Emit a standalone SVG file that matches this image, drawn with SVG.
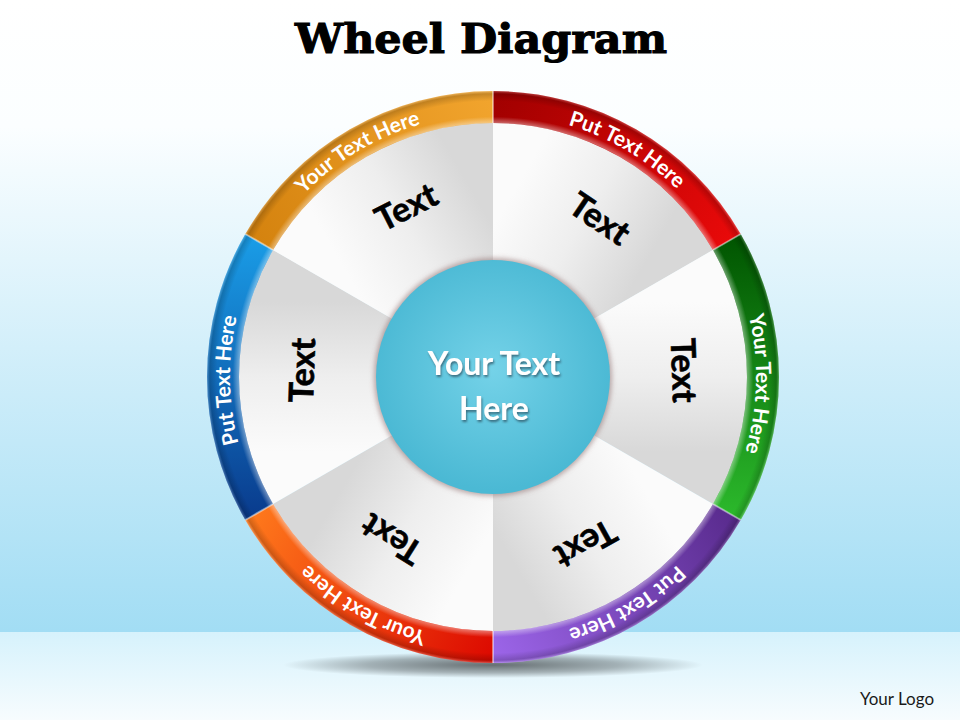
<svg xmlns="http://www.w3.org/2000/svg" xmlns:xlink="http://www.w3.org/1999/xlink" width="960" height="720" viewBox="0 0 960 720">
<style>
.title{font-family:"DejaVu Serif","Liberation Serif",serif;font-weight:bold;font-size:41px;fill:#000;stroke:#000;stroke-width:1.1}
.ring{font-family:Lato,"Open Sans","Liberation Sans",sans-serif;font-weight:bold;font-size:21px;fill:#fff}
.inner{font-family:Lato,"Open Sans","Liberation Sans",sans-serif;font-weight:bold;font-size:34px;fill:#000;stroke:#000;stroke-width:0.6}
.center{font-family:Lato,"Open Sans","Liberation Sans",sans-serif;font-weight:bold;font-size:32px;fill:#fff}
.logo{font-family:Lato,"Open Sans","Liberation Sans",sans-serif;font-size:17px;fill:#1a1a1a}
.sector{fill:url(#sectorGrad)}
.div{stroke:#fff;stroke-opacity:0.45;stroke-width:2}
</style>
<defs>
<linearGradient id="bgTop" x1="0" y1="0" x2="0" y2="632" gradientUnits="userSpaceOnUse">
<stop offset="0" stop-color="#ffffff"/>
<stop offset="0.2" stop-color="#fbfeff"/>
<stop offset="0.55" stop-color="#d3effa"/>
<stop offset="1" stop-color="#a2ddf4"/>
</linearGradient>
<linearGradient id="bgFloor" x1="0" y1="632" x2="0" y2="720" gradientUnits="userSpaceOnUse">
<stop offset="0" stop-color="#d6f2fc"/>
<stop offset="1" stop-color="#f7fcfe"/>
</linearGradient>
<radialGradient id="shadowGrad" cx="0.5" cy="0.5" r="0.5">
<stop offset="0" stop-color="#000" stop-opacity="0.55"/>
<stop offset="0.6" stop-color="#000" stop-opacity="0.28"/>
<stop offset="1" stop-color="#000" stop-opacity="0"/>
</radialGradient>
<linearGradient id="sectorGrad" x1="493" y1="227" x2="623" y2="302" gradientUnits="userSpaceOnUse">
<stop offset="0" stop-color="#fbfbfb"/>
<stop offset="0.5" stop-color="#eeeeee"/>
<stop offset="1" stop-color="#d8d8d8"/>
</linearGradient>
<linearGradient id="gRed" x1="493" y1="91" x2="741" y2="234" gradientUnits="userSpaceOnUse">
<stop offset="0" stop-color="#a00000"/><stop offset="1" stop-color="#ea0a0a"/>
</linearGradient>
<linearGradient id="gGreen" x1="493" y1="91" x2="741" y2="234" gradientUnits="userSpaceOnUse">
<stop offset="0" stop-color="#005400"/><stop offset="1" stop-color="#2cba2c"/>
</linearGradient>
<linearGradient id="gPurple" x1="493" y1="91" x2="741" y2="234" gradientUnits="userSpaceOnUse">
<stop offset="0" stop-color="#582a8c"/><stop offset="1" stop-color="#9d66ea"/>
</linearGradient>
<linearGradient id="gRedOrange" x1="493" y1="91" x2="741" y2="234" gradientUnits="userSpaceOnUse">
<stop offset="0" stop-color="#dc0800"/><stop offset="1" stop-color="#ff7a1c"/>
</linearGradient>
<linearGradient id="gBlue" x1="493" y1="91" x2="741" y2="234" gradientUnits="userSpaceOnUse">
<stop offset="0" stop-color="#093a8c"/><stop offset="1" stop-color="#1a9ee8"/>
</linearGradient>
<linearGradient id="gOrange" x1="493" y1="91" x2="741" y2="234" gradientUnits="userSpaceOnUse">
<stop offset="0" stop-color="#d4820e"/><stop offset="1" stop-color="#f2a52e"/>
</linearGradient>
<radialGradient id="bevel" cx="493" cy="377" r="286" gradientUnits="userSpaceOnUse">
<stop offset="0.888" stop-color="#fff" stop-opacity="0.4"/>
<stop offset="0.91" stop-color="#fff" stop-opacity="0"/>
<stop offset="0.965" stop-color="#000" stop-opacity="0"/>
<stop offset="0.99" stop-color="#000" stop-opacity="0.18"/>
<stop offset="1" stop-color="#fff" stop-opacity="0.25"/>
</radialGradient>
<radialGradient id="hubGrad" cx="493" cy="370" r="120" gradientUnits="userSpaceOnUse">
<stop offset="0" stop-color="#74d2e8"/>
<stop offset="1" stop-color="#4bb9d4"/>
</radialGradient>
<filter id="blur2" x="-20%" y="-20%" width="140%" height="140%">
<feGaussianBlur stdDeviation="2.5"/>
</filter>
<filter id="txtShadow" x="-20%" y="-30%" width="140%" height="160%">
<feDropShadow dx="1" dy="2" stdDeviation="1" flood-color="#2a4a5a" flood-opacity="0.7"/>
</filter>
<path id="sector" d="M493,377 L493,122 A255,255 0 0 1 713.84,249.5 Z"/>
<path id="ringSeg" d="M493,91 A286,286 0 0 1 740.68,234 L712.97,250 A254,254 0 0 0 493,123 Z"/>
<path id="ringArc" d="M447.33,118 A263,263 0 0 1 740.14,287.05"/>
</defs>

<!-- background -->
<rect x="0" y="0" width="960" height="632" fill="url(#bgTop)"/>
<rect x="0" y="632" width="960" height="88" fill="url(#bgFloor)"/>
<ellipse cx="493" cy="665" rx="210" ry="13" fill="url(#shadowGrad)"/>

<text class="title" x="481" y="53" text-anchor="middle" textLength="372" lengthAdjust="spacingAndGlyphs">Wheel Diagram</text>

<!-- node: red (top right) -->
<g id="node-red">
<use href="#sector" class="sector"/>
<use href="#ringSeg" fill="url(#gRed)"/>
<g transform="rotate(0.5 493 377)"><text class="ring"><textPath href="#ringArc" startOffset="50%" text-anchor="middle">Put Text Here</textPath></text></g>
<text class="inner" transform="translate(493 377) rotate(34)" x="0" y="-179" text-anchor="middle">Text</text>
</g>

<!-- node: green (right) -->
<g id="node-green">
<use href="#sector" class="sector" transform="rotate(60 493 377)"/>
<use href="#ringSeg" fill="url(#gGreen)" transform="rotate(60 493 377)"/>
<g transform="rotate(61.5 493 377)"><text class="ring"><textPath href="#ringArc" startOffset="50%" text-anchor="middle">Your Text Here</textPath></text></g>
<text class="inner" transform="translate(493 377) rotate(88)" x="0" y="-179" text-anchor="middle">Text</text>
</g>

<!-- node: purple (bottom right) -->
<g id="node-purple">
<use href="#sector" class="sector" transform="rotate(120 493 377)"/>
<use href="#ringSeg" fill="url(#gPurple)" transform="rotate(120 493 377)"/>
<g transform="rotate(119.5 493 377)"><text class="ring"><textPath href="#ringArc" startOffset="50%" text-anchor="middle">Put Text Here</textPath></text></g>
<text class="inner" transform="translate(493 377) rotate(151)" x="0" y="-179" text-anchor="middle">Text</text>
</g>

<!-- node: red-orange (bottom left) -->
<g id="node-redorange">
<use href="#sector" class="sector" transform="rotate(180 493 377)"/>
<use href="#ringSeg" fill="url(#gRedOrange)" transform="rotate(180 493 377)"/>
<g transform="rotate(179.6 493 377)"><text class="ring"><textPath href="#ringArc" startOffset="50%" text-anchor="middle">Your Text Here</textPath></text></g>
<text class="inner" transform="translate(493 377) rotate(212)" x="0" y="-179" text-anchor="middle">Text</text>
</g>

<!-- node: blue (left) -->
<g id="node-blue">
<use href="#sector" class="sector" transform="rotate(240 493 377)"/>
<use href="#ringSeg" fill="url(#gBlue)" transform="rotate(240 493 377)"/>
<g transform="rotate(239.3 493 377)"><text class="ring"><textPath href="#ringArc" startOffset="50%" text-anchor="middle">Put Text Here</textPath></text></g>
<text class="inner" transform="translate(493 377) rotate(272)" x="0" y="-179" text-anchor="middle">Text</text>
</g>

<!-- node: orange (top left) -->
<g id="node-orange">
<use href="#sector" class="sector" transform="rotate(300 493 377)"/>
<use href="#ringSeg" fill="url(#gOrange)" transform="rotate(300 493 377)"/>
<g transform="rotate(-61 493 377)"><text class="ring"><textPath href="#ringArc" startOffset="50%" text-anchor="middle">Your Text Here</textPath></text></g>
<text class="inner" transform="translate(493 377) rotate(-27)" x="0" y="-179" text-anchor="middle">Text</text>
</g>

<!-- ring bevel and dividers -->
<g id="ring-decor">
<path d="M207,377 A286,286 0 1 0 779,377 A286,286 0 1 0 207,377 Z M239,377 A254,254 0 1 0 747,377 A254,254 0 1 0 239,377 Z" fill-rule="evenodd" fill="url(#bevel)"/>
<g class="div">
<line x1="493" y1="91" x2="493" y2="123"/>
<line x1="493" y1="91" x2="493" y2="123" transform="rotate(60 493 377)"/>
<line x1="493" y1="91" x2="493" y2="123" transform="rotate(120 493 377)"/>
<line x1="493" y1="91" x2="493" y2="123" transform="rotate(180 493 377)"/>
<line x1="493" y1="91" x2="493" y2="123" transform="rotate(240 493 377)"/>
<line x1="493" y1="91" x2="493" y2="123" transform="rotate(300 493 377)"/>
</g>
</g>

<!-- node: center hub -->
<g id="node-center">
<circle cx="493" cy="377" r="119" fill="#8a6a6a" fill-opacity="0.55" filter="url(#blur2)"/>
<circle cx="493" cy="377" r="117" fill="url(#hubGrad)"/>
<g filter="url(#txtShadow)">
<text class="center" x="494" y="375" text-anchor="middle">Your Text</text>
<text class="center" x="494" y="420" text-anchor="middle">Here</text>
</g>
</g>

<text class="logo" x="897" y="705" text-anchor="middle">Your Logo</text>
</svg>
